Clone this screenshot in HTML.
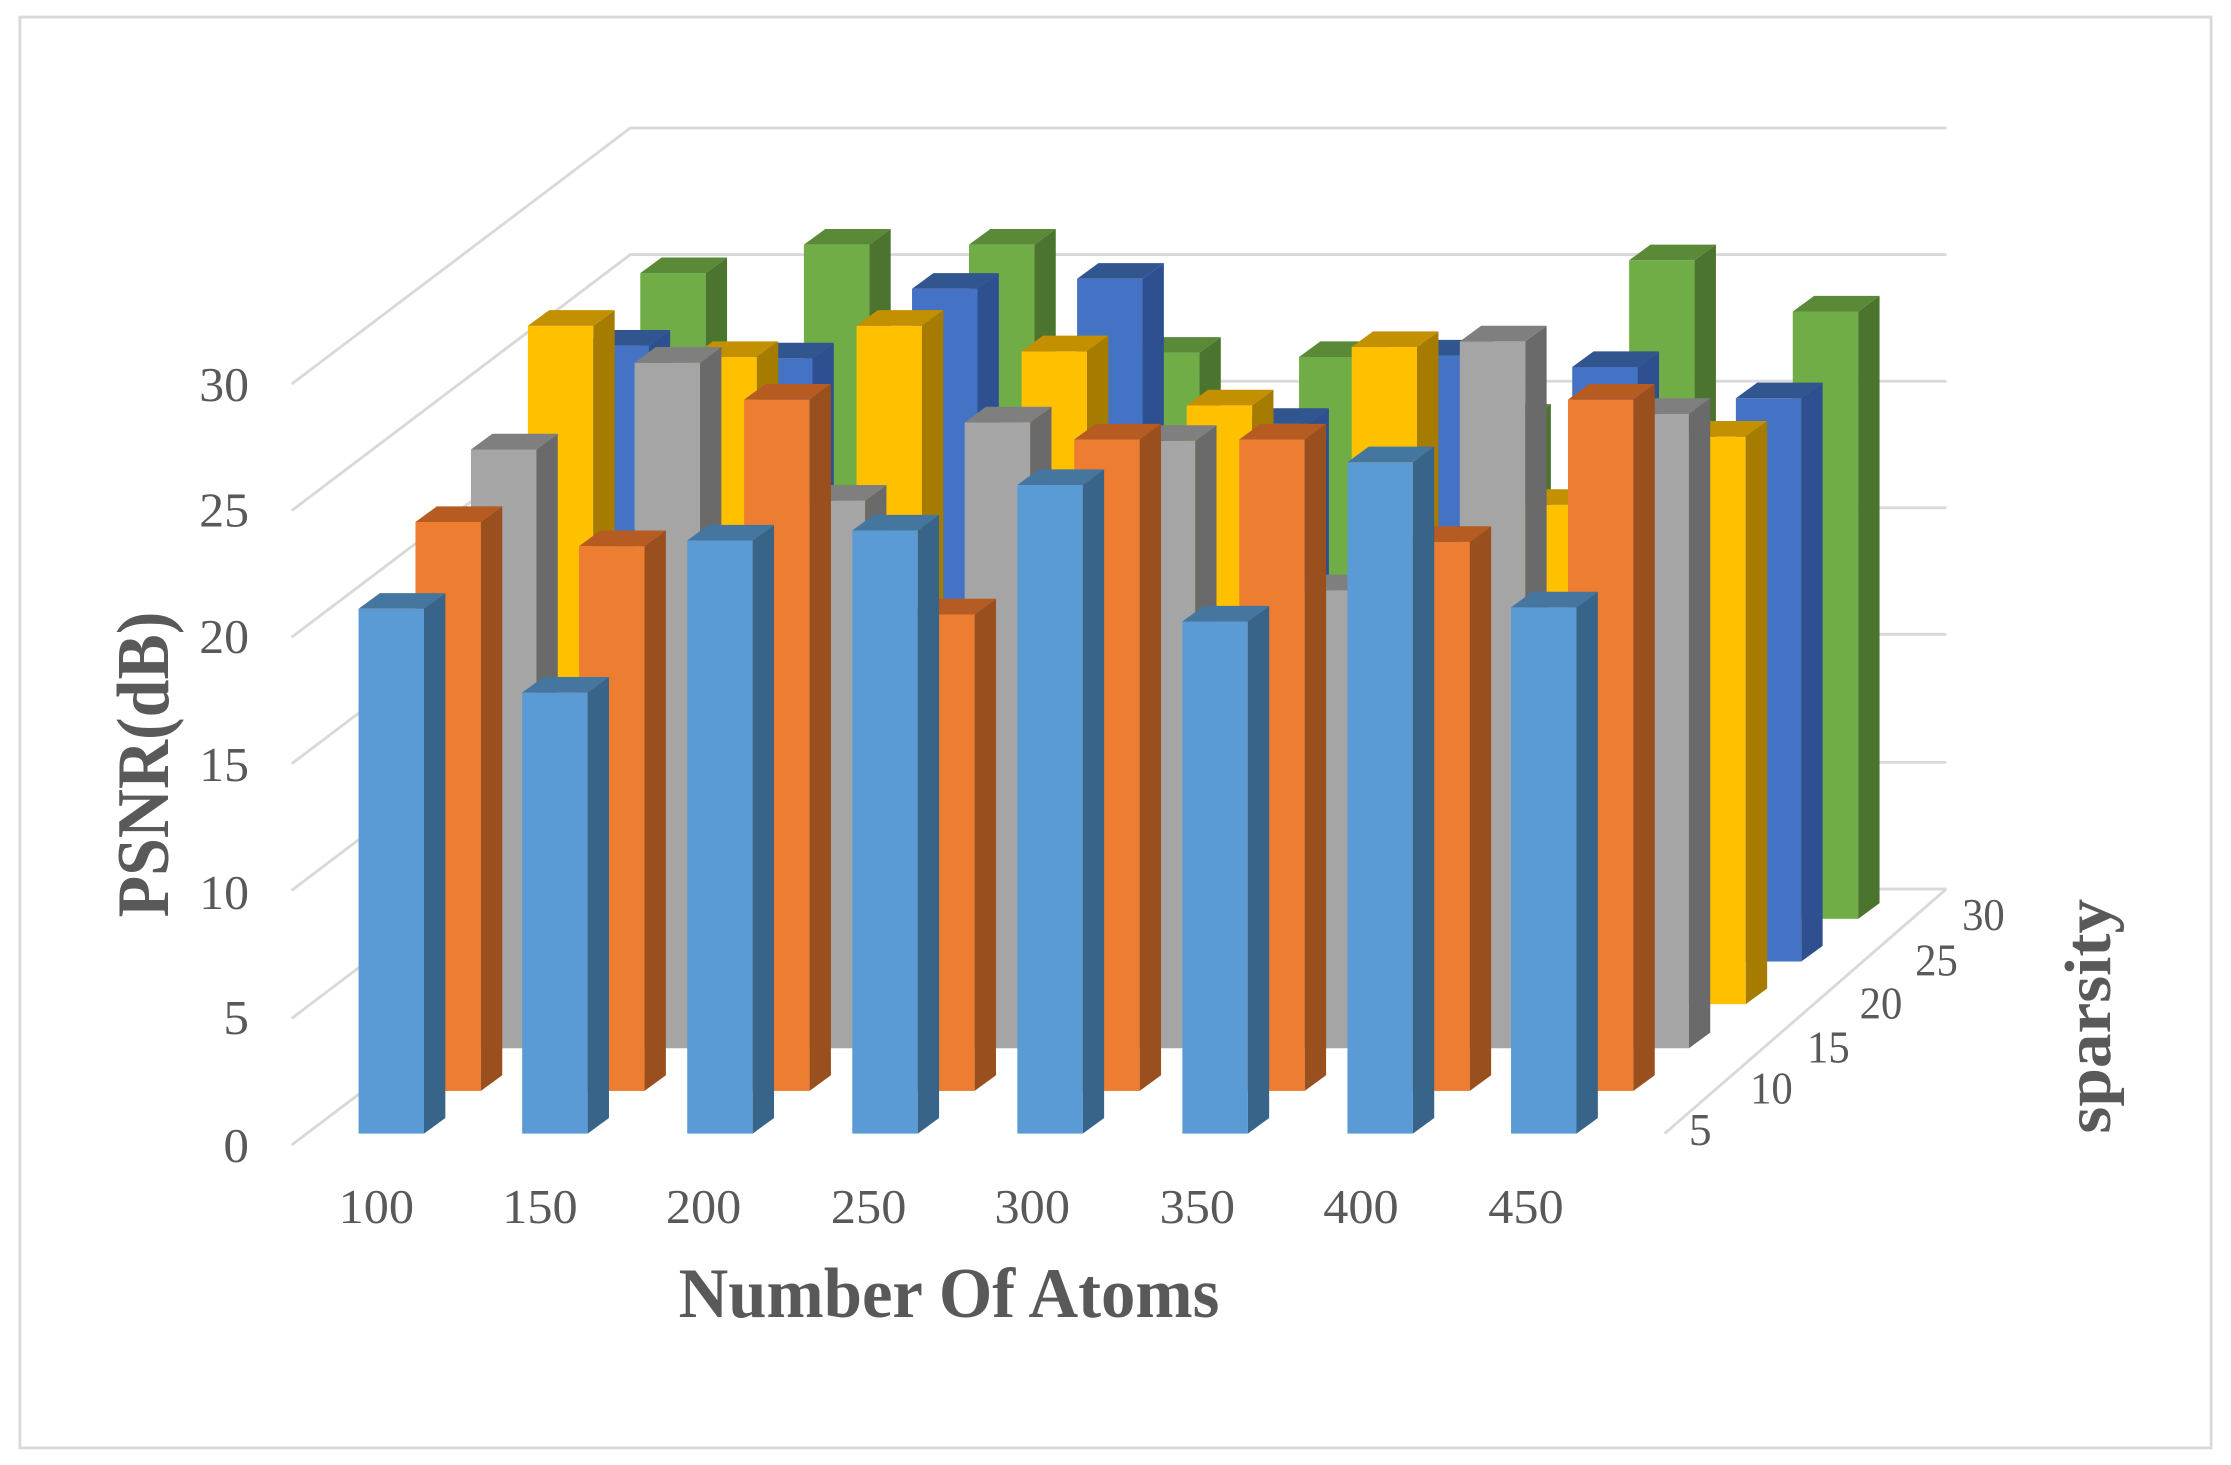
<!DOCTYPE html>
<html><head><meta charset="utf-8"><style>
html,body{margin:0;padding:0;background:#fff;}
svg{display:block;}
text{font-family:"Liberation Serif",serif;fill:#595959;}
</style></head><body>
<svg width="2231" height="1465" viewBox="0 0 1568 1030" preserveAspectRatio="none" xmlns="http://www.w3.org/2000/svg">
<rect x="0" y="0" width="1568" height="1030" fill="#fff"/>
<rect x="14" y="12" width="1540" height="1006" fill="none" stroke="#d9d9d9" stroke-width="2"/>
<g stroke="#d9d9d9" stroke-width="2" fill="none">
<polyline points="205,270 443,90 1368,90"/>
<polyline points="205,359 443,179 1368,179"/>
<polyline points="205,448 443,268 1368,268"/>
<polyline points="205,537 443,357 1368,357"/>
<polyline points="205,626 443,446 1368,446"/>
<polyline points="205,716 443,536 1368,536"/>
<polyline points="205,805 443,625 1368,625"/>
<line x1="1170" y1="797" x2="1368" y2="625"/>
</g>
<g id="bars"></g>
<g font-size="34" text-anchor="end">
<text x="175" y="282" textLength="35" lengthAdjust="spacingAndGlyphs">30</text>
<text x="175" y="370" textLength="35" lengthAdjust="spacingAndGlyphs">25</text>
<text x="175" y="459" textLength="35" lengthAdjust="spacingAndGlyphs">20</text>
<text x="175" y="549" textLength="35" lengthAdjust="spacingAndGlyphs">15</text>
<text x="175" y="639" textLength="35" lengthAdjust="spacingAndGlyphs">10</text>
<text x="175" y="727" textLength="18" lengthAdjust="spacingAndGlyphs">5</text>
<text x="175" y="817" textLength="18" lengthAdjust="spacingAndGlyphs">0</text>
</g>
<g font-size="34">
<text x="238" y="860" textLength="53" lengthAdjust="spacingAndGlyphs">100</text>
<text x="353" y="860" textLength="53" lengthAdjust="spacingAndGlyphs">150</text>
<text x="468" y="860" textLength="53" lengthAdjust="spacingAndGlyphs">200</text>
<text x="584" y="860" textLength="53" lengthAdjust="spacingAndGlyphs">250</text>
<text x="699" y="860" textLength="53" lengthAdjust="spacingAndGlyphs">300</text>
<text x="815" y="860" textLength="53" lengthAdjust="spacingAndGlyphs">350</text>
<text x="930" y="860" textLength="53" lengthAdjust="spacingAndGlyphs">400</text>
<text x="1046" y="860" textLength="53" lengthAdjust="spacingAndGlyphs">450</text>
</g>
<g font-size="32">
<text x="1187" y="805" textLength="16" lengthAdjust="spacingAndGlyphs">5</text>
<text x="1230" y="776" textLength="30" lengthAdjust="spacingAndGlyphs">10</text>
<text x="1270" y="747" textLength="30" lengthAdjust="spacingAndGlyphs">15</text>
<text x="1307" y="716" textLength="30" lengthAdjust="spacingAndGlyphs">20</text>
<text x="1346" y="686" textLength="30" lengthAdjust="spacingAndGlyphs">25</text>
<text x="1379" y="654" textLength="30" lengthAdjust="spacingAndGlyphs">30</text>
</g>
<text x="477" y="926" font-size="50" font-weight="bold" textLength="380" lengthAdjust="spacingAndGlyphs">Number Of Atoms</text>
<text transform="translate(118,645) rotate(-90)" font-size="52" font-weight="bold" textLength="215" lengthAdjust="spacingAndGlyphs">PSNR(dB)</text>
<text transform="translate(1483,797) rotate(-90)" font-size="46" font-weight="bold" textLength="165" lengthAdjust="spacingAndGlyphs">sparsity</text>
</svg>
<script>
var rows=[
 {base:646,off:198,c:["#70AD47","#4B742F","#5A8A37"],t:[192,172,172,248,251,295,183,219]},
 {base:676,off:158,c:["#4472C4","#2E5090","#31558F"],t:[243,252,203,196,298,250,258,280]},
 {base:706,off:119,c:["#FFC000","#A67C00","#C29000"],t:[229,251,229,247,285,244,355,307]},
 {base:737,off:79,c:["#A5A5A5","#6A6A6A","#7F7F7F"],t:[316,255,352,297,310,415,240,291]},
 {base:767,off:40,c:["#ED7D31","#9A4F1E","#B65B22"],t:[367,384,281,432,309,309,381,281]},
 {base:797,off:0,c:["#5B9BD5","#376488","#45769F"],t:[428,487,380,373,341,437,325,427]}
];
var xs=[252,367,483,599,715,831,947,1062];
var s="";
rows.forEach(function(r){
 for(var i=0;i<8;i++){
  var x=xs[i]+r.off,t=r.t[i],b=r.base,w=46,dx=15,dy=11;
  s+='<rect x="'+x+'" y="'+t+'" width="'+w+'" height="'+(b-t)+'" fill="'+r.c[0]+'"/>';
  s+='<polygon points="'+(x+w)+','+t+' '+(x+w+dx)+','+(t-dy)+' '+(x+w+dx)+','+(b-dy)+' '+(x+w)+','+b+'" fill="'+r.c[1]+'"/>';
  s+='<polygon points="'+x+','+t+' '+(x+dx)+','+(t-dy)+' '+(x+w+dx)+','+(t-dy)+' '+(x+w)+','+t+'" fill="'+r.c[2]+'"/>';
 }
});
document.getElementById("bars").innerHTML=s;
</script>
</body></html>
